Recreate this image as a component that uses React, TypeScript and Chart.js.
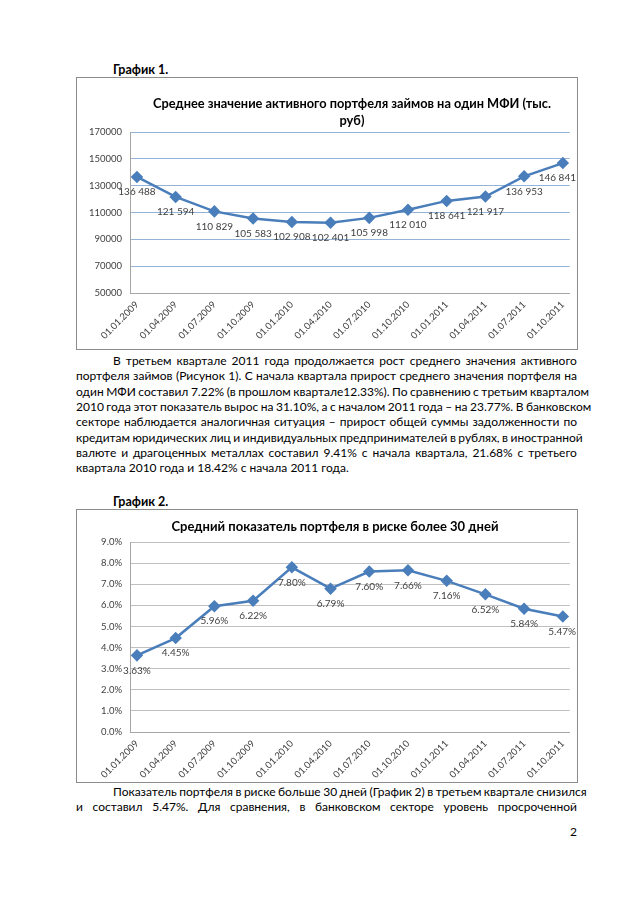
import React, { useEffect, useRef } from 'react';
import { Chart, registerables } from 'chart.js';

Chart.register(...registerables);

const dates = [
  '01.01.2009', '01.04.2009', '01.07.2009', '01.10.2009',
  '01.01.2010', '01.04.2010', '01.07.2010', '01.10.2010',
  '01.01.2011', '01.04.2011', '01.07.2011', '01.10.2011',
];
const portfolioValues = [136488, 121594, 110829, 105583, 102908, 102401, 105998, 112010, 118641, 121917, 136953, 146841];
const par30Values = [3.63, 4.45, 5.96, 6.22, 7.80, 6.79, 7.60, 7.66, 7.16, 6.52, 5.84, 5.47];
const portfolioAxis = { min: 50000, max: 170000, step: 20000 };
const par30Axis = { min: 0, max: 9, step: 1 };

const title1 = ['Среднее значение активного портфеля займов на один МФИ (тыс.', 'руб)'];
const title2 = 'Средний показатель портфеля в риске более 30 дней';

const para1 = [
  'В третьем квартале 2011 года продолжается рост среднего значения активного',
  'портфеля займов (Рисунок 1). С начала квартала прирост среднего значения портфеля на',
  'один МФИ составил 7.22% (в прошлом квартале12.33%). По сравнению с третьим кварталом',
  '2010 года этот показатель вырос на 31.10%, а с началом 2011 года – на 23.77%. В банковском',
  'секторе наблюдается аналогичная ситуация – прирост общей суммы задолженности по',
  'кредитам юридических лиц и индивидуальных предпринимателей в рублях, в иностранной',
  'валюте и драгоценных металлах составил 9.41% с начала квартала, 21.68% с третьего',
  'квартала 2010 года и 18.42% с начала 2011 года.',
];
const para2 = [
  'Показатель портфеля в риске больше 30 дней (График 2) в третьем квартале  снизился',
  'и составил 5.47%. Для сравнения, в банковском секторе уровень просроченной',
];

const FONT = 'Lato, "Open Sans", sans-serif';
const LINE = '#4A7EBB';

const fmtThousands = (v: number) => String(v).replace(/\B(?=(\d{3})+(?!\d))/g, ' ');
const fmtPct = (v: number) => v.toFixed(2) + '%';

type ChartProps = {
  values: number[];
  axis: { min: number; max: number; step: number };
  tickFmt: (v: number) => string;
  labelFmt: (v: number) => string;
  gridColor: string;
  width: number;
  height: number;
  padTop: number;
  padRight: number;
  yWidth: number;
  xHeight: number;
};

function LineChart(p: ChartProps) {
  const ref = useRef<HTMLCanvasElement | null>(null);
  useEffect(() => {
    if (!ref.current) return;
    const labelPlugin = {
      id: 'valueLabels',
      afterDatasetsDraw(chart: any) {
        const ctx = chart.ctx;
        const meta = chart.getDatasetMeta(0);
        ctx.save();
        ctx.font = `10px ${FONT}`;
        ctx.fillStyle = '#404040';
        ctx.textAlign = 'center';
        ctx.textBaseline = 'middle';
        meta.data.forEach((pt: any, i: number) => {
          const txt = p.labelFmt(p.values[i]);
          const w = ctx.measureText(txt).width;
          let x = pt.x;
          if (x + w / 2 > chart.width - 1) x = chart.width - 1 - w / 2;
          ctx.fillText(txt, x, pt.y + 15);
        });
        ctx.restore();
      },
    };
    const chart = new Chart(ref.current, {
      type: 'line',
      data: {
        datasets: [
          {
            data: p.values.map((v, i) => ({ x: i, y: v })),
            borderColor: LINE,
            backgroundColor: LINE,
            borderWidth: 2.5,
            pointStyle: 'rectRot',
            pointRadius: 4.5,
            pointBackgroundColor: LINE,
            pointBorderColor: LINE,
            tension: 0,
          },
        ],
      },
      options: {
        animation: false,
        responsive: false,
        maintainAspectRatio: false,
        layout: { padding: { top: p.padTop, right: p.padRight, left: 0, bottom: 0 } },
        plugins: { legend: { display: false }, tooltip: { enabled: false }, title: { display: false } },
        scales: {
          x: {
            type: 'linear',
            min: -0.18,
            max: 11.18,
            afterBuildTicks: (s: any) => {
              s.ticks = dates.map((_, i) => ({ value: i }));
            },
            afterFit: (s: any) => {
              s.height = p.xHeight;
            },
            ticks: {
              autoSkip: false,
              minRotation: 45,
              maxRotation: 45,
              padding: 6,
              color: '#404040',
              font: { family: FONT, size: 9.5 },
              callback: (v: any) => dates[v as number] ?? '',
            },
            grid: { display: false, drawTicks: false },
            border: { display: true, color: '#A6A6A6', width: 1 },
          },
          y: {
            min: p.axis.min,
            max: p.axis.max,
            afterFit: (s: any) => {
              s.width = p.yWidth;
            },
            ticks: {
              stepSize: p.axis.step,
              padding: 8,
              color: '#404040',
              font: { family: FONT, size: 9.5 },
              callback: (v: any) => p.tickFmt(v as number),
            },
            grid: { color: p.gridColor, lineWidth: 1, drawTicks: false },
            border: { display: true, color: '#A6A6A6', width: 1 },
          },
        },
      },
      plugins: [labelPlugin],
    });
    return () => chart.destroy();
  }, []);
  return <canvas ref={ref} width={p.width} height={p.height} style={{ width: p.width, height: p.height, display: 'block' }} />;
}

const abs = (left: number, top: number, extra: any = {}) => ({ position: 'absolute' as const, left, top, ...extra });

function TextLine({ text, y, indent, justify, size }: { text: string; y: number; indent: boolean; justify: boolean; size: number }) {
  const left = indent ? 113 : 76;
  const base = abs(left, y - 8, {
    width: 577 - left,
    height: 16,
    lineHeight: '16px',
    fontSize: size,
    whiteSpace: 'nowrap',
  });
  if (!justify) return <div style={base}>{text}</div>;
  const words = text.split(/\s+/);
  return (
    <div style={{ ...base, display: 'flex', justifyContent: 'space-between', columnGap: 2.5 }}>
      {words.map((w, i) => (
        <span key={i}>{w}</span>
      ))}
    </div>
  );
}

export default function App() {
  const bodySize = 12;
  return (
    <div style={{ position: 'absolute', left: 0, top: 0, width: 638, height: 903, background: '#fff', fontFamily: FONT, color: '#000', overflow: 'hidden' }}>
      <div style={abs(113, 62, { fontWeight: 700, fontSize: 12.5, lineHeight: '16px' })}>График 1.</div>
      <div style={abs(76, 77, { width: 502, height: 273, border: '1px solid #8C8C8C', boxSizing: 'border-box' })} />
      <div style={abs(77, 78)}>
        <LineChart
          values={portfolioValues}
          axis={portfolioAxis}
          tickFmt={(v) => String(v)}
          labelFmt={fmtThousands}
          gridColor="#95B3D7"
          width={500}
          height={271}
          padTop={54}
          padRight={2}
          yWidth={53}
          xHeight={56}
        />
      </div>
      <div style={abs(52, 95, { width: 600, textAlign: 'center', fontWeight: 700, fontSize: 12.8, lineHeight: '17px', whiteSpace: 'nowrap' })}>
        {title1[0]}
        <br />
        {title1[1]}
      </div>

      {para1.map((t, i) => (
        <TextLine key={'a' + i} text={t} y={361 + i * 15.3} indent={i === 0} justify={i < para1.length - 1} size={bodySize} />
      ))}

      <div style={abs(113, 494, { fontWeight: 700, fontSize: 12.5, lineHeight: '16px' })}>График 2.</div>
      <div style={abs(76, 509, { width: 502, height: 274, border: '1px solid #8C8C8C', boxSizing: 'border-box' })} />
      <div style={abs(77, 510)}>
        <LineChart
          values={par30Values}
          axis={par30Axis}
          tickFmt={(v) => v.toFixed(1) + '%'}
          labelFmt={fmtPct}
          gridColor="#C0C0C0"
          width={500}
          height={272}
          padTop={32}
          padRight={3}
          yWidth={53}
          xHeight={50}
        />
      </div>
      <div style={abs(35, 518, { width: 600, textAlign: 'center', fontWeight: 700, fontSize: 13, lineHeight: '17px', whiteSpace: 'nowrap' })}>
        {title2}
      </div>

      {para2.map((t, i) => (
        <TextLine key={'b' + i} text={t} y={792 + i * 15.3} indent={i === 0} justify={true} size={bodySize} />
      ))}
      <div style={abs(500, 824, { width: 77, textAlign: 'right', fontSize: bodySize, lineHeight: '16px' })}>2</div>
    </div>
  );
}
